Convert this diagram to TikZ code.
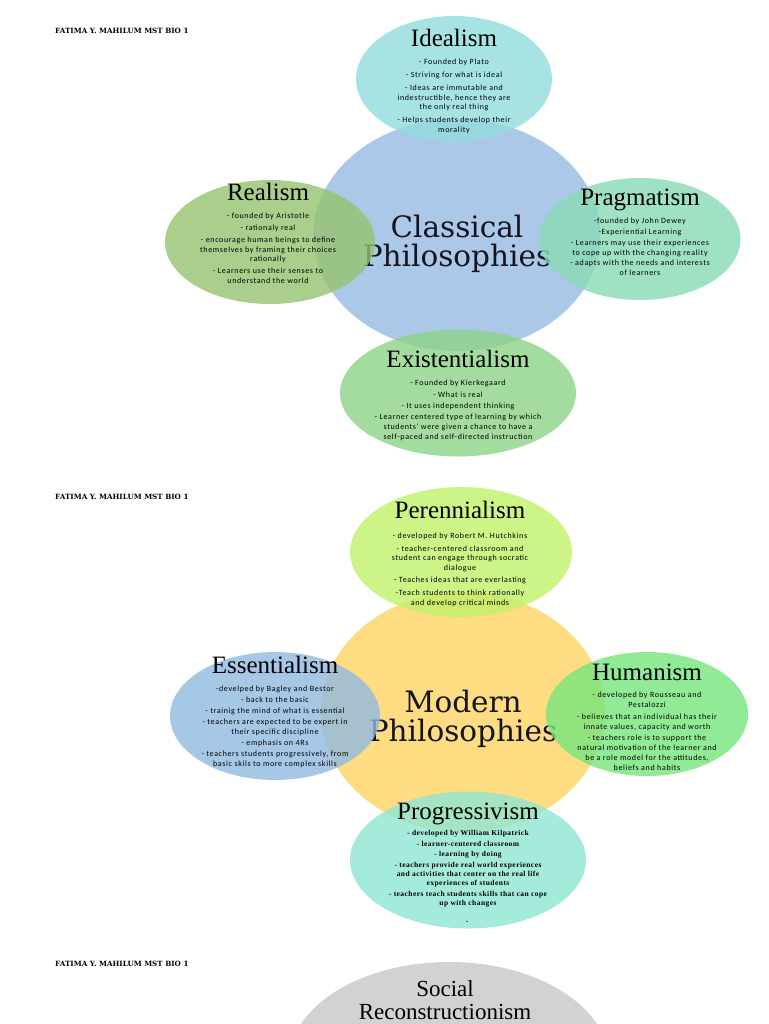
\documentclass[tikz,border=0pt]{standalone}
\usepackage{fontspec}
\setmainfont{Liberation Serif}
\newfontfamily\bodyfont[LetterSpace=8]{Carlito}
\newfontfamily\progfont[LetterSpace=6]{Liberation Serif}
\newfontfamily\wideserif{DejaVu Serif}
\usetikzlibrary{shapes.geometric}

\definecolor{classblue}{RGB}{172,200,232}
\definecolor{idealcol}{RGB}{146,221,221}
\definecolor{realcol}{RGB}{149,194,111}
\definecolor{pragcol}{RGB}{136,219,181}
\definecolor{existcol}{RGB}{142,211,136}
\definecolor{modyellow}{RGB}{253,220,130}
\definecolor{perencol}{RGB}{192,242,105}
\definecolor{essencol}{RGB}{146,186,226}
\definecolor{humancol}{RGB}{118,230,124}
\definecolor{progcol}{RGB}{142,230,211}
\definecolor{socgray}{RGB}{210,210,210}
\definecolor{inktext}{RGB}{20,20,30}

\tikzset{
  blob/.style={ellipse, inner sep=0pt, fill opacity=0.8},
  ttl/.style={anchor=base, inner sep=0pt, text=black, font=\fontsize{25}{25}\selectfont},
  body/.style={anchor=north, align=center, inner sep=0pt, text=black, font=\bodyfont\fontsize{8}{9.8}\selectfont},
  hdr/.style={anchor=west, inner sep=0pt, font=\wideserif\bfseries\fontsize{7.2}{8}\selectfont},
  big/.style={align=center, inner sep=0pt, text=inktext, font=\wideserif\fontsize{29.5}{29.5}\selectfont}
}

\begin{document}
\begin{tikzpicture}[x=1pt, y=-1pt]
  \useasboundingbox (0,0) rectangle (768,1024);
  \clip (0,0) rectangle (768,1024);
  \fill[white] (0,0) rectangle (768,1024);

  % Classical
  \node[hdr] (hdra) at (55,31) {FATIMA Y. MAHILUM MST BIO 1};
  \node[ellipse, inner sep=0pt, fill=classblue, minimum width=287pt, minimum height=232pt] (classical) at (457,235) {};
  \node[big] (classtxt) at (457,244) {Classical\\Philosophies};

  \node[blob, fill=idealcol, minimum width=196pt, minimum height=126pt] (ideal) at (454,79) {};
  \node[blob, fill=realcol, minimum width=210pt, minimum height=124pt] (real) at (270,242) {};
  \node[blob, fill=pragcol, minimum width=201pt, minimum height=122pt] (prag) at (640,239) {};
  \node[blob, fill=existcol, minimum width=236pt, minimum height=127pt] (exist) at (458,393) {};

  \node[ttl] (idealttl) at (454,47) {Idealism};
  \node[body] (idealtxt) at (454,59) {- Founded by Plato\\[3pt]- Striving for what is ideal\\[3pt]- Ideas are immutable and\\indestructible, hence they are\\the only real thing\\[3pt]- Helps students develop their\\morality};

  \node[ttl] (realttl) at (268,201) {Realism};
  \node[body] (realtxt) at (268,213) {- founded by Aristotle\\[2pt]- rationaly real\\[2pt]- encourage human beings to define\\themselves by framing their choices\\rationally\\[2pt]- Learners use their senses to\\understand the world};

  \node[ttl] (pragttl) at (640,206) {Pragmatism};
  \node[body] (pragtxt) at (640,218) {-founded by John Dewey\\[1pt]-Experiential Learning\\[1pt]- Learners may use their experiences\\to cope up with the changing reality\\[1pt]- adapts with the needs and interests\\of learners};

  \node[ttl] (existttl) at (458,367) {Existentialism};
  \node[body] (existtxt) at (458,380) {- Founded by Kierkegaard\\[1.5pt]- What is real\\[1.5pt]- It uses independent thinking\\[1.5pt]- Learner centered type of learning by which\\students' were given a chance to have a\\self-paced and self-directed instruction};

  % Modern
  \node[hdr] (hdrb) at (55,497) {FATIMA Y. MAHILUM MST BIO 1};
  \node[ellipse, inner sep=0pt, fill=modyellow, minimum width=284pt, minimum height=240pt] (modern) at (463,712) {};
  \node[big] (modtxt) at (463,719) {Modern\\Philosophies};

  \node[blob, fill=perencol, minimum width=222pt, minimum height=130pt] (peren) at (461,552) {};
  \node[blob, fill=essencol, minimum width=210pt, minimum height=128pt] (essen) at (275,716) {};
  \node[blob, fill=humancol, minimum width=202pt, minimum height=124pt] (human) at (647,714) {};
  \node[blob, fill=progcol, minimum width=236pt, minimum height=137pt] (prog) at (468,860) {};

  \node[ttl] (perenttl) at (460,518) {Perennialism};
  \node[body] (perentxt) at (460,533) {- developed by Robert M. Hutchkins\\[2.5pt]- teacher-centered classroom and\\student can engage through socratic\\dialogue\\[2.5pt]- Teaches ideas that are everlasting\\[2.5pt]-Teach students to think rationally\\and develop critical minds};

  \node[ttl] (essenttl) at (275,673) {Essentialism};
  \node[body] (essentxt) at (275,686) {-develped by Bagley and Bestor\\[1.2pt]- back to the basic\\[1.2pt]- trainig the mind of what is essential\\[1.2pt]- teachers are expected to be expert in\\their specific discipline\\[1.2pt]- emphasis on 4Rs\\[1.2pt]- teachers students progressively, from\\basic skils to more complex skills};

  \node[ttl] (humanttl) at (647,680) {Humanism};
  \node[body] (humantxt) at (647,692) {- developed by Rousseau and\\Pestalozzi\\[2pt]- believes that an individual has their\\innate values, capacity and worth\\[2pt]- teachers role is to support the\\natural motivation of the learner and\\be a role model for the attitudes,\\beliefs and habits};

  \node[ttl] (progttl) at (468,819) {Progressivism};
  \node[body, font=\progfont\bfseries\fontsize{7.5}{9.2}\selectfont] (progtxt) at (468,830) {- developed by William Kilpatrick\\[1.5pt]- learner-centered classroom\\[1.5pt]- learning by doing\\[1.5pt]- teachers provide real world experiences\\and activities that center on the real life\\experiences of students\\[1.5pt]- teachers teach students skills that can cope\\up with changes};
  \node[inner sep=0pt, font=\progfont\bfseries\fontsize{7.5}{9}\selectfont] (progdash) at (467,922) {-};

  % Social Reconstructionism
  \node[hdr] (hdrc) at (55,964) {FATIMA Y. MAHILUM MST BIO 1};
  \node[ellipse, inner sep=0pt, fill=socgray, minimum width=320pt, minimum height=200pt] (social) at (449,1062) {};
  \node[ttl, font=\fontsize{23}{23}\selectfont] (socttl) at (445,996) {Social};
  \node[ttl, font=\fontsize{23}{23}\selectfont] (recttl) at (445,1019) {Reconstructionism};
\end{tikzpicture}
\end{document}
